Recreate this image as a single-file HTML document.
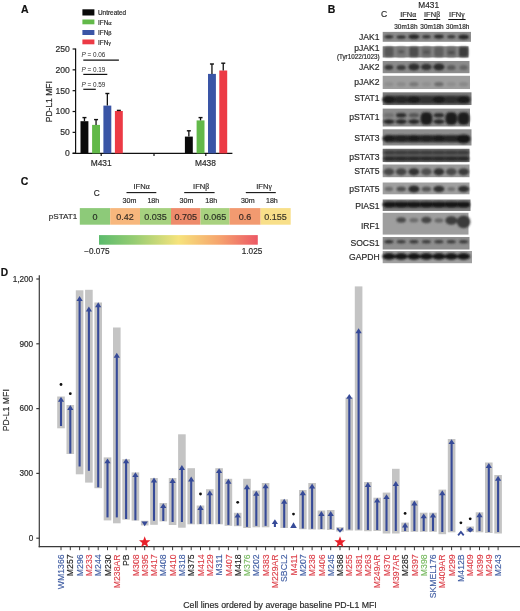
<!DOCTYPE html><html><head><meta charset="utf-8"><style>html,body{margin:0;padding:0;background:#fff;}svg{display:block;}text{font-family:'Liberation Sans', Arial, Helvetica, sans-serif;}</style></head><body>
<svg width="520" height="611" viewBox="0 0 520 611">
<defs><filter id="bl" x="-50%" y="-50%" width="200%" height="200%"><feGaussianBlur stdDeviation="1.1"/></filter><filter id="bl2" x="-50%" y="-50%" width="200%" height="200%"><feGaussianBlur stdDeviation="0.6"/></filter><linearGradient id="cbar" x1="0" x2="1" y1="0" y2="0"><stop offset="0" stop-color="#5bbb6c"/><stop offset="0.22" stop-color="#95cc72"/><stop offset="0.5" stop-color="#f6e37c"/><stop offset="0.75" stop-color="#f6a66e"/><stop offset="1" stop-color="#ec5865"/></linearGradient></defs>
<rect width="520" height="611" fill="#fff"/>
<text x="21" y="13" font-size="10.5" text-anchor="start" font-weight="bold" fill="#111" stroke="#111" stroke-width="0.18" >A</text>
<rect x="82.4" y="9.3" width="12" height="6.2" fill="#0a0a0a"/>
<text x="98" y="15.0" font-size="6.4" text-anchor="start" font-weight="normal" fill="#2a2a2a" stroke="#2a2a2a" stroke-width="0.18" >Untreated</text>
<rect x="82.4" y="19.5" width="12" height="4.8" fill="#62b949"/>
<text x="98" y="24.6" font-size="6.4" text-anchor="start" font-weight="normal" fill="#2a2a2a" stroke="#2a2a2a" stroke-width="0.18" >IFN<tspan font-family="Liberation Serif, serif">&#945;</tspan></text>
<rect x="82.4" y="30" width="12" height="5" fill="#3a55a6"/>
<text x="98" y="35.0" font-size="6.4" text-anchor="start" font-weight="normal" fill="#2a2a2a" stroke="#2a2a2a" stroke-width="0.18" >IFN<tspan font-family="Liberation Serif, serif">&#946;</tspan></text>
<rect x="82.4" y="39.5" width="12" height="4.8" fill="#ec3a45"/>
<text x="98" y="44.5" font-size="6.4" text-anchor="start" font-weight="normal" fill="#2a2a2a" stroke="#2a2a2a" stroke-width="0.18" >IFN<tspan font-family="Liberation Serif, serif">&#947;</tspan></text>
<g stroke="#111" stroke-width="1.2" fill="none">
<line x1="75.6" y1="48.6" x2="75.6" y2="153.6"/>
<line x1="72.6" y1="153.4" x2="232.4" y2="153.4"/>
<line x1="72.6" y1="153.20" x2="75.6" y2="153.20"/>
<line x1="72.6" y1="132.36" x2="75.6" y2="132.36"/>
<line x1="72.6" y1="111.52" x2="75.6" y2="111.52"/>
<line x1="72.6" y1="90.68" x2="75.6" y2="90.68"/>
<line x1="72.6" y1="69.84" x2="75.6" y2="69.84"/>
<line x1="72.6" y1="49.00" x2="75.6" y2="49.00"/>
<line x1="101.2" y1="153.4" x2="101.2" y2="156"/>
<line x1="154" y1="153.4" x2="154" y2="156"/>
<line x1="205.8" y1="153.4" x2="205.8" y2="156"/>
</g>
<text x="69.8" y="156.10" font-size="8.6" text-anchor="end" font-weight="normal" fill="#2a2a2a" stroke="#2a2a2a" stroke-width="0.18" >0</text>
<text x="69.8" y="135.26" font-size="8.6" text-anchor="end" font-weight="normal" fill="#2a2a2a" stroke="#2a2a2a" stroke-width="0.18" >50</text>
<text x="69.8" y="114.42" font-size="8.6" text-anchor="end" font-weight="normal" fill="#2a2a2a" stroke="#2a2a2a" stroke-width="0.18" >100</text>
<text x="69.8" y="93.58" font-size="8.6" text-anchor="end" font-weight="normal" fill="#2a2a2a" stroke="#2a2a2a" stroke-width="0.18" >150</text>
<text x="69.8" y="72.74" font-size="8.6" text-anchor="end" font-weight="normal" fill="#2a2a2a" stroke="#2a2a2a" stroke-width="0.18" >200</text>
<text x="69.8" y="51.90" font-size="8.6" text-anchor="end" font-weight="normal" fill="#2a2a2a" stroke="#2a2a2a" stroke-width="0.18" >250</text>
<text x="0" y="0" font-size="8.5" text-anchor="middle" font-weight="normal" fill="#2a2a2a" stroke="#2a2a2a" stroke-width="0.18" transform="translate(52.2,101.7) rotate(-90)">PD-L1 MFI</text>
<text x="101.2" y="165.6" font-size="8.4" text-anchor="middle" font-weight="normal" fill="#2a2a2a" stroke="#2a2a2a" stroke-width="0.18" >M431</text>
<text x="205.4" y="165.6" font-size="8.4" text-anchor="middle" font-weight="normal" fill="#2a2a2a" stroke="#2a2a2a" stroke-width="0.18" >M438</text>
<rect x="80.5" y="121.2" width="7.9" height="32.20" fill="#0a0a0a"/>
<line x1="84.45" y1="121.2" x2="84.45" y2="117.6" stroke="#111" stroke-width="1.3"/>
<line x1="82.45" y1="117.6" x2="86.45" y2="117.6" stroke="#111" stroke-width="1.4"/>
<rect x="92.1" y="124.9" width="7.9" height="28.50" fill="#62b949"/>
<line x1="96.05" y1="124.9" x2="96.05" y2="119.6" stroke="#111" stroke-width="1.3"/>
<line x1="94.05" y1="119.6" x2="98.05" y2="119.6" stroke="#111" stroke-width="1.4"/>
<rect x="103.4" y="105.6" width="7.9" height="47.80" fill="#3a55a6"/>
<line x1="107.35" y1="105.6" x2="107.35" y2="93.5" stroke="#111" stroke-width="1.3"/>
<line x1="105.35" y1="93.5" x2="109.35" y2="93.5" stroke="#111" stroke-width="1.4"/>
<rect x="114.9" y="111.0" width="7.9" height="42.40" fill="#ec3a45"/>
<line x1="118.85" y1="111.0" x2="118.85" y2="110.4" stroke="#111" stroke-width="1.3"/>
<line x1="116.85" y1="110.4" x2="120.85" y2="110.4" stroke="#111" stroke-width="1.4"/>
<rect x="184.9" y="136.6" width="7.9" height="16.80" fill="#0a0a0a"/>
<line x1="188.85" y1="136.6" x2="188.85" y2="130.8" stroke="#111" stroke-width="1.3"/>
<line x1="186.85" y1="130.8" x2="190.85" y2="130.8" stroke="#111" stroke-width="1.4"/>
<rect x="196.6" y="120.4" width="7.9" height="33.00" fill="#62b949"/>
<line x1="200.55" y1="120.4" x2="200.55" y2="117.6" stroke="#111" stroke-width="1.3"/>
<line x1="198.55" y1="117.6" x2="202.55" y2="117.6" stroke="#111" stroke-width="1.4"/>
<rect x="208.0" y="73.9" width="7.9" height="79.50" fill="#3a55a6"/>
<line x1="211.95" y1="73.9" x2="211.95" y2="64.0" stroke="#111" stroke-width="1.3"/>
<line x1="209.95" y1="64.0" x2="213.95" y2="64.0" stroke="#111" stroke-width="1.4"/>
<rect x="219.3" y="70.5" width="7.9" height="82.90" fill="#ec3a45"/>
<line x1="223.25" y1="70.5" x2="223.25" y2="63.2" stroke="#111" stroke-width="1.3"/>
<line x1="221.25" y1="63.2" x2="225.25" y2="63.2" stroke="#111" stroke-width="1.4"/>
<line x1="83.3" y1="60.2" x2="118.9" y2="60.2" stroke="#111" stroke-width="1.2"/>
<text x="81.4" y="57.1" font-size="6.4" fill="#2a2a2a"><tspan font-style="italic">P</tspan> = 0.06</text>
<line x1="83.3" y1="74.4" x2="107.3" y2="74.4" stroke="#111" stroke-width="1.2"/>
<text x="81.4" y="71.6" font-size="6.4" fill="#2a2a2a"><tspan font-style="italic">P</tspan> = 0.19</text>
<line x1="83.3" y1="89.3" x2="95.8" y2="89.3" stroke="#111" stroke-width="1.2"/>
<text x="81.4" y="86.5" font-size="6.4" fill="#2a2a2a"><tspan font-style="italic">P</tspan> = 0.59</text>
<text x="327.8" y="12.6" font-size="10.5" text-anchor="start" font-weight="bold" fill="#111" stroke="#111" stroke-width="0.18" >B</text>
<text x="428.7" y="7.7" font-size="8.3" text-anchor="middle" font-weight="normal" fill="#2a2a2a" stroke="#2a2a2a" stroke-width="0.18" >M431</text>
<text x="384.2" y="16.7" font-size="8.6" text-anchor="middle" font-weight="normal" fill="#2a2a2a" stroke="#2a2a2a" stroke-width="0.18" >C</text>
<text x="408.2" y="17.2" font-size="7.5" text-anchor="middle" font-weight="normal" fill="#2a2a2a" stroke="#2a2a2a" stroke-width="0.18" >IFN<tspan font-family="Liberation Serif, serif">&#945;</tspan></text>
<line x1="399.6" y1="19.5" x2="416.6" y2="19.5" stroke="#111" stroke-width="1"/>
<text x="432.0" y="17.2" font-size="7.5" text-anchor="middle" font-weight="normal" fill="#2a2a2a" stroke="#2a2a2a" stroke-width="0.18" >IFN<tspan font-family="Liberation Serif, serif">&#946;</tspan></text>
<line x1="423.8" y1="19.5" x2="440.2" y2="19.5" stroke="#111" stroke-width="1"/>
<text x="456.8" y="17.2" font-size="7.5" text-anchor="middle" font-weight="normal" fill="#2a2a2a" stroke="#2a2a2a" stroke-width="0.18" >IFN<tspan font-family="Liberation Serif, serif">&#947;</tspan></text>
<line x1="448.3" y1="19.5" x2="465.6" y2="19.5" stroke="#111" stroke-width="1"/>
<text x="405.9" y="28.8" font-size="6.45" text-anchor="middle" font-weight="normal" fill="#2a2a2a" stroke="#2a2a2a" stroke-width="0.18" >30m18h</text>
<text x="432.0" y="28.8" font-size="6.45" text-anchor="middle" font-weight="normal" fill="#2a2a2a" stroke="#2a2a2a" stroke-width="0.18" >30m18h</text>
<text x="457.7" y="28.8" font-size="6.45" text-anchor="middle" font-weight="normal" fill="#2a2a2a" stroke="#2a2a2a" stroke-width="0.18" >30m18h</text>
<text x="379.6" y="39.6" font-size="8.6" text-anchor="end" font-weight="normal" fill="#2a2a2a" stroke="#2a2a2a" stroke-width="0.18" >JAK1</text>
<rect x="382.7" y="31.9" width="88.3" height="9.9" fill="#8e8e8e"/>
<g filter="url(#bl)"><ellipse cx="388.90" cy="36.8" rx="4.6" ry="1.8" fill="#2e2e2e"/><ellipse cx="401.20" cy="37.0" rx="4.8" ry="1.8" fill="#2e2e2e"/><ellipse cx="413.90" cy="36.8" rx="5.6" ry="2.5" fill="#262626"/><ellipse cx="426.40" cy="36.8" rx="4.4" ry="1.7" fill="#303030"/><ellipse cx="438.90" cy="36.6" rx="5.0" ry="2.1" fill="#2a2a2a"/><ellipse cx="451.30" cy="36.8" rx="4.2" ry="1.7" fill="#333"/><ellipse cx="463.60" cy="37.0" rx="5.4" ry="2.5" fill="#262626"/></g>
<text x="379.6" y="51.2" font-size="8.6" text-anchor="end" font-weight="normal" fill="#2a2a2a" stroke="#2a2a2a" stroke-width="0.18" >pJAK1</text>
<rect x="382.7" y="46.3" width="85.8" height="11.2" fill="#858585"/>
<g filter="url(#bl)"><rect x="384.30" y="46.8" width="9.2" height="10.2" rx="2" fill="#585858"/><rect x="396.60" y="46.8" width="9.2" height="10.2" rx="2" fill="#767676"/><rect x="409.30" y="46.8" width="9.2" height="10.2" rx="2" fill="#4e4e4e"/><rect x="421.80" y="46.8" width="9.2" height="10.2" rx="2" fill="#6a6a6a"/><rect x="434.30" y="46.8" width="9.2" height="10.2" rx="2" fill="#5e5e5e"/><rect x="446.70" y="46.8" width="9.2" height="10.2" rx="2" fill="#6a6a6a"/><rect x="459.00" y="46.8" width="9.2" height="10.2" rx="2" fill="#3e3e3e"/><ellipse cx="401.20" cy="51.8" rx="3.0" ry="1.3" fill="#4a4a4a"/><ellipse cx="451.30" cy="52.5" rx="3.5" ry="1.5" fill="#4a4a4a"/><ellipse cx="426.40" cy="52.0" rx="3.5" ry="1.5" fill="#505050"/></g>
<text x="379.6" y="69.6" font-size="8.6" text-anchor="end" font-weight="normal" fill="#2a2a2a" stroke="#2a2a2a" stroke-width="0.18" >JAK2</text>
<rect x="382.7" y="61.0" width="86.8" height="12.2" fill="#8c8c8c"/>
<g filter="url(#bl)"><ellipse cx="388.90" cy="67.3" rx="4.4" ry="2.6" fill="#383838"/><ellipse cx="401.20" cy="67.5" rx="4.6" ry="2.6" fill="#3a3a3a"/><ellipse cx="413.90" cy="67.0" rx="5.6" ry="3.4" fill="#2e2e2e"/><ellipse cx="426.40" cy="67.0" rx="5.4" ry="3.2" fill="#303030"/><ellipse cx="438.90" cy="67.0" rx="5.6" ry="3.5" fill="#2a2a2a"/><ellipse cx="451.30" cy="67.5" rx="4.4" ry="2.6" fill="#5a5a5a"/><ellipse cx="463.60" cy="67.5" rx="4.2" ry="2.6" fill="#666"/></g>
<text x="379.6" y="85.0" font-size="8.6" text-anchor="end" font-weight="normal" fill="#2a2a2a" stroke="#2a2a2a" stroke-width="0.18" >pJAK2</text>
<rect x="382.7" y="75.8" width="87.3" height="13.2" fill="#9e9e9e"/>
<g filter="url(#bl)"><ellipse cx="388.90" cy="84.2" rx="4.6" ry="2.2" fill="#8e8e8e"/><ellipse cx="401.20" cy="84.2" rx="4.6" ry="2.2" fill="#8a8a8a"/><ellipse cx="413.90" cy="84.2" rx="4.6" ry="2.2" fill="#787878"/><ellipse cx="426.40" cy="84.2" rx="4.6" ry="2.2" fill="#909090"/><ellipse cx="438.90" cy="84.2" rx="4.6" ry="2.2" fill="#6c6c6c"/><ellipse cx="451.30" cy="84.2" rx="4.6" ry="2.2" fill="#8e8e8e"/><ellipse cx="463.60" cy="84.2" rx="4.6" ry="2.2" fill="#888"/></g>
<text x="379.6" y="100.8" font-size="8.6" text-anchor="end" font-weight="normal" fill="#2a2a2a" stroke="#2a2a2a" stroke-width="0.18" >STAT1</text>
<rect x="382.7" y="92.3" width="88.8" height="12.7" fill="#7c7c7c"/>
<g filter="url(#bl)"><rect x="384.00" y="95.5" width="86" height="8.5" rx="3" fill="#3a3a3a"/><ellipse cx="388.90" cy="99.6" rx="6.6" ry="3.6" fill="#1c1c1c"/><ellipse cx="401.20" cy="99.6" rx="6.6" ry="3.6" fill="#262626"/><ellipse cx="413.90" cy="99.6" rx="6.6" ry="3.6" fill="#1c1c1c"/><ellipse cx="426.40" cy="99.6" rx="6.6" ry="3.6" fill="#333"/><ellipse cx="438.90" cy="99.6" rx="6.6" ry="3.6" fill="#1e1e1e"/><ellipse cx="451.30" cy="99.6" rx="6.6" ry="3.6" fill="#2e2e2e"/><ellipse cx="463.60" cy="99.6" rx="6.6" ry="3.6" fill="#1a1a1a"/></g>
<text x="379.6" y="120.4" font-size="8.6" text-anchor="end" font-weight="normal" fill="#2a2a2a" stroke="#2a2a2a" stroke-width="0.18" >pSTAT1</text>
<rect x="382.7" y="108.6" width="87.3" height="17.9" fill="#8c8c8c"/>
<g filter="url(#bl)"><ellipse cx="388.90" cy="115.3" rx="5.2" ry="2.2" fill="#707070"/><ellipse cx="388.90" cy="121.6" rx="5.6" ry="2.3" fill="#262626"/><ellipse cx="401.20" cy="115.3" rx="5.2" ry="2.2" fill="#2a2a2a"/><ellipse cx="401.20" cy="121.6" rx="5.6" ry="2.3" fill="#262626"/><ellipse cx="413.90" cy="115.3" rx="5.2" ry="2.2" fill="#555"/><ellipse cx="413.90" cy="121.6" rx="5.6" ry="2.3" fill="#262626"/><rect x="420.60" y="112.2" width="11.6" height="12.6" rx="4.5" fill="#1c1c1c"/><ellipse cx="438.90" cy="115.3" rx="5.2" ry="2.2" fill="#2a2a2a"/><ellipse cx="438.90" cy="121.6" rx="5.6" ry="2.3" fill="#262626"/><rect x="445.50" y="112.2" width="11.6" height="12.6" rx="4.5" fill="#1c1c1c"/><rect x="457.80" y="112.2" width="11.6" height="12.6" rx="4.5" fill="#1c1c1c"/></g>
<text x="379.6" y="141.2" font-size="8.6" text-anchor="end" font-weight="normal" fill="#2a2a2a" stroke="#2a2a2a" stroke-width="0.18" >STAT3</text>
<rect x="382.7" y="129.3" width="88.8" height="16.2" fill="#8e8e8e"/>
<g filter="url(#bl)"><rect x="384.00" y="135.0" width="86" height="7.5" rx="3" fill="#333"/><ellipse cx="388.90" cy="138.4" rx="6.4" ry="3.2" fill="#1c1c1c"/><ellipse cx="401.20" cy="138.4" rx="6.4" ry="3.2" fill="#222"/><ellipse cx="413.90" cy="138.4" rx="6.4" ry="3.2" fill="#1c1c1c"/><ellipse cx="426.40" cy="138.4" rx="6.4" ry="3.2" fill="#222"/><ellipse cx="438.90" cy="138.4" rx="6.4" ry="3.2" fill="#1c1c1c"/><ellipse cx="451.30" cy="138.4" rx="6.4" ry="3.2" fill="#262626"/><ellipse cx="463.60" cy="138.4" rx="6.4" ry="3.2" fill="#141414"/><ellipse cx="463.60" cy="139" rx="6.8" ry="4.6" fill="#141414"/></g>
<text x="379.6" y="159.6" font-size="8.6" text-anchor="end" font-weight="normal" fill="#2a2a2a" stroke="#2a2a2a" stroke-width="0.18" >pSTAT3</text>
<rect x="382.7" y="148.8" width="86.8" height="13.2" fill="#707070"/>
<g filter="url(#bl)"><rect x="384.00" y="150.5" width="85" height="4.2" rx="2" fill="#454545"/><rect x="384.00" y="156.2" width="85" height="4.8" rx="2" fill="#333"/><ellipse cx="388.90" cy="152.5" rx="5.6" ry="1.8" fill="#3a3a3a"/><ellipse cx="401.20" cy="152.5" rx="5.6" ry="1.8" fill="#3a3a3a"/><ellipse cx="413.90" cy="152.5" rx="5.6" ry="1.8" fill="#3a3a3a"/><ellipse cx="426.40" cy="152.5" rx="5.6" ry="1.8" fill="#3a3a3a"/><ellipse cx="438.90" cy="152.5" rx="5.6" ry="1.8" fill="#3a3a3a"/><ellipse cx="451.30" cy="152.5" rx="5.6" ry="1.8" fill="#3a3a3a"/><ellipse cx="463.60" cy="152.5" rx="5.6" ry="1.8" fill="#3a3a3a"/><ellipse cx="388.90" cy="158.6" rx="5.8" ry="2.2" fill="#2a2a2a"/><ellipse cx="401.20" cy="158.6" rx="5.8" ry="2.2" fill="#2a2a2a"/><ellipse cx="413.90" cy="158.6" rx="5.8" ry="2.2" fill="#2a2a2a"/><ellipse cx="426.40" cy="158.6" rx="5.8" ry="2.2" fill="#2a2a2a"/><ellipse cx="438.90" cy="158.6" rx="5.8" ry="2.2" fill="#2a2a2a"/><ellipse cx="451.30" cy="158.6" rx="5.8" ry="2.2" fill="#2a2a2a"/><ellipse cx="463.60" cy="158.6" rx="5.8" ry="2.2" fill="#2a2a2a"/></g>
<text x="379.6" y="174.2" font-size="8.6" text-anchor="end" font-weight="normal" fill="#2a2a2a" stroke="#2a2a2a" stroke-width="0.18" >STAT5</text>
<rect x="382.7" y="164.5" width="86.8" height="12.7" fill="#999"/>
<g filter="url(#bl)"><ellipse cx="388.90" cy="171.8" rx="5.4" ry="3.6" fill="#4a4a4a"/><ellipse cx="401.20" cy="171.8" rx="5.4" ry="3.6" fill="#454545"/><ellipse cx="413.90" cy="171.8" rx="5.4" ry="3.6" fill="#303030"/><ellipse cx="426.40" cy="171.8" rx="5.4" ry="3.6" fill="#505050"/><ellipse cx="438.90" cy="171.8" rx="5.4" ry="3.6" fill="#333"/><ellipse cx="451.30" cy="171.8" rx="5.4" ry="3.6" fill="#484848"/><ellipse cx="463.60" cy="171.8" rx="5.4" ry="3.6" fill="#3a3a3a"/></g>
<text x="379.6" y="191.9" font-size="8.6" text-anchor="end" font-weight="normal" fill="#2a2a2a" stroke="#2a2a2a" stroke-width="0.18" >pSTAT5</text>
<rect x="382.7" y="182.5" width="86.8" height="11.8" fill="#a0a0a0"/>
<g filter="url(#bl)"><ellipse cx="388.90" cy="189.0" rx="4.2" ry="2.2" fill="#6a6a6a"/><ellipse cx="401.20" cy="189.0" rx="4.8" ry="2.5" fill="#505050"/><ellipse cx="413.90" cy="189.0" rx="5.6" ry="3.6" fill="#2a2a2a"/><ellipse cx="426.40" cy="189.0" rx="4.8" ry="2.6" fill="#555"/><ellipse cx="438.90" cy="189.0" rx="5.6" ry="3.2" fill="#333"/><ellipse cx="451.30" cy="189.0" rx="4.0" ry="2.0" fill="#707070"/><ellipse cx="463.60" cy="189.0" rx="5.6" ry="3.2" fill="#333"/></g>
<text x="379.6" y="208.8" font-size="8.6" text-anchor="end" font-weight="normal" fill="#2a2a2a" stroke="#2a2a2a" stroke-width="0.18" >PIAS1</text>
<rect x="382.7" y="199.5" width="87.8" height="11.5" fill="#7e7e7e"/>
<g filter="url(#bl)"><rect x="384.00" y="201.8" width="86" height="5.8" rx="2" fill="#2a2a2a"/><ellipse cx="388.90" cy="204.6" rx="6.4" ry="2.9" fill="#141414"/><ellipse cx="401.20" cy="204.6" rx="6.4" ry="2.9" fill="#141414"/><ellipse cx="413.90" cy="204.6" rx="6.4" ry="2.9" fill="#141414"/><ellipse cx="426.40" cy="204.6" rx="6.4" ry="2.9" fill="#141414"/><ellipse cx="438.90" cy="204.6" rx="6.4" ry="2.9" fill="#141414"/><ellipse cx="451.30" cy="204.6" rx="6.4" ry="2.9" fill="#141414"/><ellipse cx="463.60" cy="204.6" rx="6.4" ry="2.9" fill="#141414"/></g>
<text x="379.6" y="228.5" font-size="8.6" text-anchor="end" font-weight="normal" fill="#2a2a2a" stroke="#2a2a2a" stroke-width="0.18" >IRF1</text>
<rect x="382.7" y="212.8" width="85.8" height="21.8" fill="#9e9e9e"/>
<g filter="url(#bl)"><ellipse cx="401.20" cy="220.0" rx="4.8" ry="2.8" fill="#4a4a4a"/><ellipse cx="413.90" cy="220.2" rx="4.4" ry="2.2" fill="#6a6a6a"/><ellipse cx="426.40" cy="220.0" rx="5.2" ry="3.2" fill="#444"/><ellipse cx="438.90" cy="220.5" rx="4.4" ry="2.2" fill="#666"/><ellipse cx="451.30" cy="220.5" rx="6.0" ry="4.2" fill="#3c3c3c"/><ellipse cx="463.60" cy="221.8" rx="6.8" ry="6.4" fill="#3a3a3a"/></g>
<text x="379.6" y="246.2" font-size="8.6" text-anchor="end" font-weight="normal" fill="#2a2a2a" stroke="#2a2a2a" stroke-width="0.18" >SOCS1</text>
<rect x="382.7" y="237.0" width="86.8" height="12.5" fill="#8e8e8e"/>
<g filter="url(#bl)"><ellipse cx="388.90" cy="241.8" rx="4.6" ry="1.7" fill="#2e2e2e"/><ellipse cx="401.20" cy="241.8" rx="4.6" ry="1.7" fill="#3a3a3a"/><ellipse cx="413.90" cy="241.8" rx="4.6" ry="1.7" fill="#363636"/><ellipse cx="426.40" cy="241.8" rx="4.6" ry="1.7" fill="#3a3a3a"/><ellipse cx="438.90" cy="241.8" rx="4.6" ry="1.7" fill="#3a3a3a"/><ellipse cx="451.30" cy="241.8" rx="4.6" ry="1.7" fill="#3a3a3a"/><ellipse cx="463.60" cy="241.8" rx="4.6" ry="1.7" fill="#383838"/></g>
<text x="379.6" y="259.7" font-size="8.6" text-anchor="end" font-weight="normal" fill="#2a2a2a" stroke="#2a2a2a" stroke-width="0.18" >GAPDH</text>
<rect x="382.7" y="251.0" width="89.3" height="12.2" fill="#a0a0a0"/>
<g filter="url(#bl)"><ellipse cx="388.90" cy="256.4" rx="6.6" ry="3.3" fill="#151515"/><ellipse cx="401.20" cy="256.4" rx="6.6" ry="3.3" fill="#151515"/><ellipse cx="413.90" cy="256.4" rx="6.6" ry="3.3" fill="#151515"/><ellipse cx="426.40" cy="256.4" rx="6.6" ry="3.3" fill="#151515"/><ellipse cx="438.90" cy="256.4" rx="6.6" ry="3.3" fill="#151515"/><ellipse cx="451.30" cy="256.4" rx="6.6" ry="3.3" fill="#151515"/><ellipse cx="463.60" cy="256.4" rx="6.6" ry="3.3" fill="#151515"/></g>
<text x="379.6" y="59.0" font-size="6.3" text-anchor="end" font-weight="normal" fill="#2a2a2a" stroke="#2a2a2a" stroke-width="0.18" >(Tyr1022/1023)</text>
<text x="20.8" y="185" font-size="10.5" text-anchor="start" font-weight="bold" fill="#111" stroke="#111" stroke-width="0.18" >C</text>
<text x="96.8" y="195.5" font-size="8.3" text-anchor="middle" font-weight="normal" fill="#2a2a2a" stroke="#2a2a2a" stroke-width="0.18" >C</text>
<text x="141.6" y="189.2" font-size="7.6" text-anchor="middle" font-weight="normal" fill="#2a2a2a" stroke="#2a2a2a" stroke-width="0.18" >IFN<tspan font-family="Liberation Serif, serif">&#945;</tspan></text>
<line x1="126.5" y1="192.6" x2="156.3" y2="192.6" stroke="#111" stroke-width="1.1"/>
<text x="201.1" y="189.2" font-size="7.6" text-anchor="middle" font-weight="normal" fill="#2a2a2a" stroke="#2a2a2a" stroke-width="0.18" >IFN<tspan font-family="Liberation Serif, serif">&#946;</tspan></text>
<line x1="184.2" y1="192.6" x2="214.6" y2="192.6" stroke="#111" stroke-width="1.1"/>
<text x="264" y="189.2" font-size="7.6" text-anchor="middle" font-weight="normal" fill="#2a2a2a" stroke="#2a2a2a" stroke-width="0.18" >IFN<tspan font-family="Liberation Serif, serif">&#947;</tspan></text>
<line x1="245.8" y1="192.6" x2="275.8" y2="192.6" stroke="#111" stroke-width="1.1"/>
<text x="129.5" y="202.9" font-size="7.1" text-anchor="middle" font-weight="normal" fill="#2a2a2a" stroke="#2a2a2a" stroke-width="0.18" >30m</text>
<text x="153.3" y="202.9" font-size="7.1" text-anchor="middle" font-weight="normal" fill="#2a2a2a" stroke="#2a2a2a" stroke-width="0.18" >18h</text>
<text x="186.5" y="202.9" font-size="7.1" text-anchor="middle" font-weight="normal" fill="#2a2a2a" stroke="#2a2a2a" stroke-width="0.18" >30m</text>
<text x="211.2" y="202.9" font-size="7.1" text-anchor="middle" font-weight="normal" fill="#2a2a2a" stroke="#2a2a2a" stroke-width="0.18" >18h</text>
<text x="247.8" y="202.9" font-size="7.1" text-anchor="middle" font-weight="normal" fill="#2a2a2a" stroke="#2a2a2a" stroke-width="0.18" >30m</text>
<text x="271.9" y="202.9" font-size="7.1" text-anchor="middle" font-weight="normal" fill="#2a2a2a" stroke="#2a2a2a" stroke-width="0.18" >18h</text>
<rect x="79.8" y="208.1" width="30.4" height="16.6" fill="#8dca79"/>
<text x="95.0" y="220.0" font-size="9.0" text-anchor="middle" font-weight="normal" fill="rgba(20,20,20,0.82)" stroke="rgba(20,20,20,0.82)" stroke-width="0.18" >0</text>
<rect x="110.2" y="208.1" width="29.8" height="16.6" fill="#f7b77d"/>
<text x="125.1" y="220.0" font-size="9.0" text-anchor="middle" font-weight="normal" fill="rgba(20,20,20,0.82)" stroke="rgba(20,20,20,0.82)" stroke-width="0.18" >0.42</text>
<rect x="140.0" y="208.1" width="31.0" height="16.6" fill="#a6d17f"/>
<text x="155.5" y="220.0" font-size="9.0" text-anchor="middle" font-weight="normal" fill="rgba(20,20,20,0.82)" stroke="rgba(20,20,20,0.82)" stroke-width="0.18" >0.035</text>
<rect x="171.0" y="208.1" width="29.5" height="16.6" fill="#ee8b6b"/>
<text x="185.8" y="220.0" font-size="9.0" text-anchor="middle" font-weight="normal" fill="rgba(20,20,20,0.82)" stroke="rgba(20,20,20,0.82)" stroke-width="0.18" >0.705</text>
<rect x="200.5" y="208.1" width="29.1" height="16.6" fill="#a8d17f"/>
<text x="215.1" y="220.0" font-size="9.0" text-anchor="middle" font-weight="normal" fill="rgba(20,20,20,0.82)" stroke="rgba(20,20,20,0.82)" stroke-width="0.18" >0.065</text>
<rect x="229.6" y="208.1" width="31.0" height="16.6" fill="#f29a70"/>
<text x="245.1" y="220.0" font-size="9.0" text-anchor="middle" font-weight="normal" fill="rgba(20,20,20,0.82)" stroke="rgba(20,20,20,0.82)" stroke-width="0.18" >0.6</text>
<rect x="260.6" y="208.1" width="30.1" height="16.6" fill="#f8df89"/>
<text x="275.6" y="220.0" font-size="9.0" text-anchor="middle" font-weight="normal" fill="rgba(20,20,20,0.82)" stroke="rgba(20,20,20,0.82)" stroke-width="0.18" >0.155</text>
<text x="77.3" y="219.1" font-size="8.1" text-anchor="end" font-weight="normal" fill="#2a2a2a" stroke="#2a2a2a" stroke-width="0.18" >pSTAT1</text>
<rect x="99" y="235.1" width="158.8" height="9.6" fill="url(#cbar)"/>
<text x="96.9" y="254" font-size="8.2" text-anchor="middle" font-weight="normal" fill="#2a2a2a" stroke="#2a2a2a" stroke-width="0.18" >&#8722;0.075</text>
<text x="252" y="254" font-size="8.2" text-anchor="middle" font-weight="normal" fill="#2a2a2a" stroke="#2a2a2a" stroke-width="0.18" >1.025</text>
<text x="0.7" y="275.5" font-size="10.2" text-anchor="start" font-weight="bold" fill="#111" stroke="#111" stroke-width="0.18" >D</text>
<g stroke="#3a3a3a" stroke-width="1.2" fill="none">
<line x1="39.3" y1="275.3" x2="39.3" y2="547.2"/>
<line x1="38.7" y1="546.7" x2="520" y2="546.7"/>
<line x1="36.3" y1="538.20" x2="39.3" y2="538.20"/>
<line x1="36.3" y1="473.40" x2="39.3" y2="473.40"/>
<line x1="36.3" y1="408.60" x2="39.3" y2="408.60"/>
<line x1="36.3" y1="343.80" x2="39.3" y2="343.80"/>
<line x1="36.3" y1="279.00" x2="39.3" y2="279.00"/>
</g>
<text x="33.2" y="541.00" font-size="8.2" text-anchor="end" font-weight="normal" fill="#2a2a2a" stroke="#2a2a2a" stroke-width="0.18" >0</text>
<text x="33.2" y="476.20" font-size="8.2" text-anchor="end" font-weight="normal" fill="#2a2a2a" stroke="#2a2a2a" stroke-width="0.18" >300</text>
<text x="33.2" y="411.40" font-size="8.2" text-anchor="end" font-weight="normal" fill="#2a2a2a" stroke="#2a2a2a" stroke-width="0.18" >600</text>
<text x="33.2" y="346.60" font-size="8.2" text-anchor="end" font-weight="normal" fill="#2a2a2a" stroke="#2a2a2a" stroke-width="0.18" >900</text>
<text x="33.2" y="281.80" font-size="8.2" text-anchor="end" font-weight="normal" fill="#2a2a2a" stroke="#2a2a2a" stroke-width="0.18" >1,200</text>
<text x="0" y="0" font-size="8.7" text-anchor="middle" font-weight="normal" fill="#2a2a2a" stroke="#2a2a2a" stroke-width="0.18" transform="translate(8.9,410.2) rotate(-90)">PD-L1 MFI</text>
<text x="280" y="608.4" font-size="8.75" text-anchor="middle" font-weight="normal" fill="#2a2a2a" stroke="#2a2a2a" stroke-width="0.18" >Cell lines ordered by average baseline PD-L1 MFI</text>
<rect x="57.20" y="396.5" width="7.6" height="31.8" fill="#c4c4c4"/>
<line x1="61.00" y1="426.0" x2="61.00" y2="401.2" stroke="#364a98" stroke-width="2.1"/>
<polygon points="57.90,401.7 61.00,396.8 64.10,401.7" fill="#364a98"/>
<circle cx="61.00" cy="384.5" r="1.4" fill="#111"/>
<line x1="61.00" y1="546.7" x2="61.00" y2="550.2" stroke="#3a3a3a" stroke-width="1"/>
<text x="0" y="0" font-size="8.7" text-anchor="end" fill="#3f5ca2" stroke="#3f5ca2" stroke-width="0.15" transform="translate(64.10,554.4) rotate(-90)">WM1366</text>
<rect x="66.50" y="405.0" width="7.6" height="49.0" fill="#c4c4c4"/>
<line x1="70.30" y1="453.5" x2="70.30" y2="409.4" stroke="#364a98" stroke-width="2.1"/>
<polygon points="67.20,409.9 70.30,405.0 73.40,409.9" fill="#364a98"/>
<circle cx="70.30" cy="393.7" r="1.4" fill="#111"/>
<line x1="70.30" y1="546.7" x2="70.30" y2="550.2" stroke="#3a3a3a" stroke-width="1"/>
<text x="0" y="0" font-size="8.7" text-anchor="end" fill="#222" stroke="#222" stroke-width="0.15" transform="translate(73.40,554.4) rotate(-90)">M257</text>
<rect x="75.80" y="290.3" width="7.6" height="184.0" fill="#c4c4c4"/>
<line x1="79.60" y1="466.5" x2="79.60" y2="300.4" stroke="#364a98" stroke-width="2.1"/>
<polygon points="76.50,300.9 79.60,296.0 82.70,300.9" fill="#364a98"/>
<line x1="79.60" y1="546.7" x2="79.60" y2="550.2" stroke="#3a3a3a" stroke-width="1"/>
<text x="0" y="0" font-size="8.7" text-anchor="end" fill="#3f5ca2" stroke="#3f5ca2" stroke-width="0.15" transform="translate(82.70,554.4) rotate(-90)">M296</text>
<rect x="85.10" y="289.8" width="7.6" height="192.8" fill="#c4c4c4"/>
<line x1="88.90" y1="470.8" x2="88.90" y2="310.9" stroke="#364a98" stroke-width="2.1"/>
<polygon points="85.80,311.4 88.90,306.5 92.00,311.4" fill="#364a98"/>
<line x1="88.90" y1="546.7" x2="88.90" y2="550.2" stroke="#3a3a3a" stroke-width="1"/>
<text x="0" y="0" font-size="8.7" text-anchor="end" fill="#dc3e48" stroke="#dc3e48" stroke-width="0.15" transform="translate(92.00,554.4) rotate(-90)">M233</text>
<rect x="94.40" y="302.5" width="7.6" height="185.7" fill="#c4c4c4"/>
<line x1="98.20" y1="487.3" x2="98.20" y2="306.7" stroke="#364a98" stroke-width="2.1"/>
<polygon points="95.10,307.2 98.20,302.3 101.30,307.2" fill="#364a98"/>
<line x1="98.20" y1="546.7" x2="98.20" y2="550.2" stroke="#3a3a3a" stroke-width="1"/>
<text x="0" y="0" font-size="8.7" text-anchor="end" fill="#3f5ca2" stroke="#3f5ca2" stroke-width="0.15" transform="translate(101.30,554.4) rotate(-90)">M244</text>
<rect x="103.70" y="457.4" width="7.6" height="63.0" fill="#c4c4c4"/>
<line x1="107.50" y1="517.4" x2="107.50" y2="462.79999999999995" stroke="#364a98" stroke-width="2.1"/>
<polygon points="104.40,463.29999999999995 107.50,458.4 110.60,463.29999999999995" fill="#364a98"/>
<line x1="107.50" y1="546.7" x2="107.50" y2="550.2" stroke="#3a3a3a" stroke-width="1"/>
<text x="0" y="0" font-size="8.7" text-anchor="end" fill="#222" stroke="#222" stroke-width="0.15" transform="translate(110.60,554.4) rotate(-90)">M230</text>
<rect x="113.00" y="327.5" width="7.6" height="195.8" fill="#c4c4c4"/>
<line x1="116.80" y1="517.4" x2="116.80" y2="357.2" stroke="#364a98" stroke-width="2.1"/>
<polygon points="113.70,357.7 116.80,352.8 119.90,357.7" fill="#364a98"/>
<line x1="116.80" y1="546.7" x2="116.80" y2="550.2" stroke="#3a3a3a" stroke-width="1"/>
<text x="0" y="0" font-size="8.7" text-anchor="end" fill="#dc3e48" stroke="#dc3e48" stroke-width="0.15" transform="translate(119.90,554.4) rotate(-90)">M238AR</text>
<rect x="122.30" y="459.2" width="7.6" height="60.4" fill="#c4c4c4"/>
<line x1="126.10" y1="519.0" x2="126.10" y2="462.79999999999995" stroke="#364a98" stroke-width="2.1"/>
<polygon points="123.00,463.29999999999995 126.10,458.4 129.20,463.29999999999995" fill="#364a98"/>
<line x1="126.10" y1="546.7" x2="126.10" y2="550.2" stroke="#3a3a3a" stroke-width="1"/>
<text x="0" y="0" font-size="8.7" text-anchor="end" fill="#222" stroke="#222" stroke-width="0.15" transform="translate(129.20,554.4) rotate(-90)">PB</text>
<rect x="131.60" y="472.4" width="7.6" height="48.2" fill="#c4c4c4"/>
<line x1="135.40" y1="520.2" x2="135.40" y2="476.59999999999997" stroke="#364a98" stroke-width="2.1"/>
<polygon points="132.30,477.09999999999997 135.40,472.2 138.50,477.09999999999997" fill="#364a98"/>
<line x1="135.40" y1="546.7" x2="135.40" y2="550.2" stroke="#3a3a3a" stroke-width="1"/>
<text x="0" y="0" font-size="8.7" text-anchor="end" fill="#dc3e48" stroke="#dc3e48" stroke-width="0.15" transform="translate(138.50,554.4) rotate(-90)">M308</text>
<rect x="140.90" y="520.8" width="7.6" height="4.6" fill="#c4c4c4"/>
<polygon points="141.60,521.6 147.80,521.6 144.70,526.3" fill="#364a98"/>
<line x1="144.70" y1="546.7" x2="144.70" y2="550.2" stroke="#3a3a3a" stroke-width="1"/>
<text x="0" y="0" font-size="8.7" text-anchor="end" fill="#dc3e48" stroke="#dc3e48" stroke-width="0.15" transform="translate(147.80,554.4) rotate(-90)">M395</text>
<rect x="150.20" y="478.0" width="7.6" height="46.8" fill="#c4c4c4"/>
<line x1="154.00" y1="520.8" x2="154.00" y2="482.0" stroke="#364a98" stroke-width="2.1"/>
<polygon points="150.90,482.5 154.00,477.6 157.10,482.5" fill="#364a98"/>
<line x1="154.00" y1="546.7" x2="154.00" y2="550.2" stroke="#3a3a3a" stroke-width="1"/>
<text x="0" y="0" font-size="8.7" text-anchor="end" fill="#dc3e48" stroke="#dc3e48" stroke-width="0.15" transform="translate(157.10,554.4) rotate(-90)">M417</text>
<rect x="159.50" y="503.0" width="7.6" height="18.4" fill="#c4c4c4"/>
<line x1="163.30" y1="521.0" x2="163.30" y2="507.59999999999997" stroke="#364a98" stroke-width="2.1"/>
<polygon points="160.20,508.09999999999997 163.30,503.2 166.40,508.09999999999997" fill="#364a98"/>
<line x1="163.30" y1="546.7" x2="163.30" y2="550.2" stroke="#3a3a3a" stroke-width="1"/>
<text x="0" y="0" font-size="8.7" text-anchor="end" fill="#3f5ca2" stroke="#3f5ca2" stroke-width="0.15" transform="translate(166.40,554.4) rotate(-90)">M408</text>
<rect x="168.80" y="478.0" width="7.6" height="47.0" fill="#c4c4c4"/>
<line x1="172.60" y1="522.0" x2="172.60" y2="482.4" stroke="#364a98" stroke-width="2.1"/>
<polygon points="169.50,482.9 172.60,478.0 175.70,482.9" fill="#364a98"/>
<line x1="172.60" y1="546.7" x2="172.60" y2="550.2" stroke="#3a3a3a" stroke-width="1"/>
<text x="0" y="0" font-size="8.7" text-anchor="end" fill="#dc3e48" stroke="#dc3e48" stroke-width="0.15" transform="translate(175.70,554.4) rotate(-90)">M410</text>
<rect x="178.10" y="434.3" width="7.6" height="93.4" fill="#c4c4c4"/>
<line x1="181.90" y1="522.0" x2="181.90" y2="469.4" stroke="#364a98" stroke-width="2.1"/>
<polygon points="178.80,469.9 181.90,465.0 185.00,469.9" fill="#364a98"/>
<line x1="181.90" y1="546.7" x2="181.90" y2="550.2" stroke="#3a3a3a" stroke-width="1"/>
<text x="0" y="0" font-size="8.7" text-anchor="end" fill="#3f5ca2" stroke="#3f5ca2" stroke-width="0.15" transform="translate(185.00,554.4) rotate(-90)">M318</text>
<rect x="187.40" y="468.2" width="7.6" height="56.1" fill="#c4c4c4"/>
<line x1="191.20" y1="523.5" x2="191.20" y2="480.9" stroke="#364a98" stroke-width="2.1"/>
<polygon points="188.10,481.4 191.20,476.5 194.30,481.4" fill="#364a98"/>
<line x1="191.20" y1="546.7" x2="191.20" y2="550.2" stroke="#3a3a3a" stroke-width="1"/>
<text x="0" y="0" font-size="8.7" text-anchor="end" fill="#222" stroke="#222" stroke-width="0.15" transform="translate(194.30,554.4) rotate(-90)">M375</text>
<rect x="196.70" y="505.5" width="7.6" height="18.8" fill="#c4c4c4"/>
<line x1="200.50" y1="523.9" x2="200.50" y2="509.4" stroke="#364a98" stroke-width="2.1"/>
<polygon points="197.40,509.9 200.50,505.0 203.60,509.9" fill="#364a98"/>
<circle cx="200.50" cy="494.0" r="1.4" fill="#111"/>
<line x1="200.50" y1="546.7" x2="200.50" y2="550.2" stroke="#3a3a3a" stroke-width="1"/>
<text x="0" y="0" font-size="8.7" text-anchor="end" fill="#dc3e48" stroke="#dc3e48" stroke-width="0.15" transform="translate(203.60,554.4) rotate(-90)">M414</text>
<rect x="206.00" y="489.2" width="7.6" height="35.1" fill="#c4c4c4"/>
<line x1="209.80" y1="523.9" x2="209.80" y2="494.7" stroke="#364a98" stroke-width="2.1"/>
<polygon points="206.70,495.2 209.80,490.3 212.90,495.2" fill="#364a98"/>
<line x1="209.80" y1="546.7" x2="209.80" y2="550.2" stroke="#3a3a3a" stroke-width="1"/>
<text x="0" y="0" font-size="8.7" text-anchor="end" fill="#dc3e48" stroke="#dc3e48" stroke-width="0.15" transform="translate(212.90,554.4) rotate(-90)">M229</text>
<rect x="215.30" y="468.2" width="7.6" height="56.1" fill="#c4c4c4"/>
<line x1="219.10" y1="523.9" x2="219.10" y2="472.59999999999997" stroke="#364a98" stroke-width="2.1"/>
<polygon points="216.00,473.09999999999997 219.10,468.2 222.20,473.09999999999997" fill="#364a98"/>
<line x1="219.10" y1="546.7" x2="219.10" y2="550.2" stroke="#3a3a3a" stroke-width="1"/>
<text x="0" y="0" font-size="8.7" text-anchor="end" fill="#3f5ca2" stroke="#3f5ca2" stroke-width="0.15" transform="translate(222.20,554.4) rotate(-90)">M311</text>
<rect x="224.60" y="478.8" width="7.6" height="47.0" fill="#c4c4c4"/>
<line x1="228.40" y1="524.9" x2="228.40" y2="483.2" stroke="#364a98" stroke-width="2.1"/>
<polygon points="225.30,483.7 228.40,478.8 231.50,483.7" fill="#364a98"/>
<line x1="228.40" y1="546.7" x2="228.40" y2="550.2" stroke="#3a3a3a" stroke-width="1"/>
<text x="0" y="0" font-size="8.7" text-anchor="end" fill="#dc3e48" stroke="#dc3e48" stroke-width="0.15" transform="translate(231.50,554.4) rotate(-90)">M407</text>
<rect x="233.90" y="512.8" width="7.6" height="13.4" fill="#c4c4c4"/>
<line x1="237.70" y1="525.4" x2="237.70" y2="517.1" stroke="#364a98" stroke-width="2.1"/>
<polygon points="234.60,517.6 237.70,512.7 240.80,517.6" fill="#364a98"/>
<circle cx="237.70" cy="502.3" r="1.4" fill="#111"/>
<line x1="237.70" y1="546.7" x2="237.70" y2="550.2" stroke="#3a3a3a" stroke-width="1"/>
<text x="0" y="0" font-size="8.7" text-anchor="end" fill="#222" stroke="#222" stroke-width="0.15" transform="translate(240.80,554.4) rotate(-90)">M418</text>
<rect x="243.20" y="478.8" width="7.6" height="49.2" fill="#c4c4c4"/>
<line x1="247.00" y1="526.9" x2="247.00" y2="488.7" stroke="#364a98" stroke-width="2.1"/>
<polygon points="243.90,489.2 247.00,484.3 250.10,489.2" fill="#364a98"/>
<line x1="247.00" y1="546.7" x2="247.00" y2="550.2" stroke="#3a3a3a" stroke-width="1"/>
<text x="0" y="0" font-size="8.7" text-anchor="end" fill="#74b85c" stroke="#74b85c" stroke-width="0.15" transform="translate(250.10,554.4) rotate(-90)">M376</text>
<rect x="252.50" y="490.5" width="7.6" height="36.8" fill="#c4c4c4"/>
<line x1="256.30" y1="525.9" x2="256.30" y2="495.2" stroke="#364a98" stroke-width="2.1"/>
<polygon points="253.20,495.7 256.30,490.8 259.40,495.7" fill="#364a98"/>
<line x1="256.30" y1="546.7" x2="256.30" y2="550.2" stroke="#3a3a3a" stroke-width="1"/>
<text x="0" y="0" font-size="8.7" text-anchor="end" fill="#3f5ca2" stroke="#3f5ca2" stroke-width="0.15" transform="translate(259.40,554.4) rotate(-90)">M202</text>
<rect x="261.80" y="483.0" width="7.6" height="44.3" fill="#c4c4c4"/>
<line x1="265.60" y1="525.9" x2="265.60" y2="487.79999999999995" stroke="#364a98" stroke-width="2.1"/>
<polygon points="262.50,488.29999999999995 265.60,483.4 268.70,488.29999999999995" fill="#364a98"/>
<line x1="265.60" y1="546.7" x2="265.60" y2="550.2" stroke="#3a3a3a" stroke-width="1"/>
<text x="0" y="0" font-size="8.7" text-anchor="end" fill="#dc3e48" stroke="#dc3e48" stroke-width="0.15" transform="translate(268.70,554.4) rotate(-90)">M383</text>
<line x1="274.90" y1="527.0" x2="274.90" y2="523.6" stroke="#364a98" stroke-width="2.1"/>
<polygon points="271.80,524.1 274.90,519.2 278.00,524.1" fill="#364a98"/>
<line x1="274.90" y1="546.7" x2="274.90" y2="550.2" stroke="#3a3a3a" stroke-width="1"/>
<text x="0" y="0" font-size="8.7" text-anchor="end" fill="#dc3e48" stroke="#dc3e48" stroke-width="0.15" transform="translate(278.00,554.4) rotate(-90)">M229AR</text>
<rect x="280.40" y="499.3" width="7.6" height="28.7" fill="#c4c4c4"/>
<line x1="284.20" y1="527.7" x2="284.20" y2="503.2" stroke="#364a98" stroke-width="2.1"/>
<polygon points="281.10,503.7 284.20,498.8 287.30,503.7" fill="#364a98"/>
<line x1="284.20" y1="546.7" x2="284.20" y2="550.2" stroke="#3a3a3a" stroke-width="1"/>
<text x="0" y="0" font-size="8.7" text-anchor="end" fill="#3f5ca2" stroke="#3f5ca2" stroke-width="0.15" transform="translate(287.30,554.4) rotate(-90)">SBCL2</text>
<polygon points="290.20,528 293.50,522.3 296.80,528" fill="#364a98"/>
<circle cx="293.50" cy="514.1" r="1.4" fill="#111"/>
<line x1="293.50" y1="546.7" x2="293.50" y2="550.2" stroke="#3a3a3a" stroke-width="1"/>
<text x="0" y="0" font-size="8.7" text-anchor="end" fill="#dc3e48" stroke="#dc3e48" stroke-width="0.15" transform="translate(296.60,554.4) rotate(-90)">M411</text>
<rect x="299.00" y="490.0" width="7.6" height="39.2" fill="#c4c4c4"/>
<line x1="302.80" y1="528.5" x2="302.80" y2="494.7" stroke="#364a98" stroke-width="2.1"/>
<polygon points="299.70,495.2 302.80,490.3 305.90,495.2" fill="#364a98"/>
<line x1="302.80" y1="546.7" x2="302.80" y2="550.2" stroke="#3a3a3a" stroke-width="1"/>
<text x="0" y="0" font-size="8.7" text-anchor="end" fill="#3f5ca2" stroke="#3f5ca2" stroke-width="0.15" transform="translate(305.90,554.4) rotate(-90)">M207</text>
<rect x="308.30" y="483.0" width="7.6" height="46.5" fill="#c4c4c4"/>
<line x1="312.10" y1="528.8" x2="312.10" y2="487.9" stroke="#364a98" stroke-width="2.1"/>
<polygon points="309.00,488.4 312.10,483.5 315.20,488.4" fill="#364a98"/>
<line x1="312.10" y1="546.7" x2="312.10" y2="550.2" stroke="#3a3a3a" stroke-width="1"/>
<text x="0" y="0" font-size="8.7" text-anchor="end" fill="#dc3e48" stroke="#dc3e48" stroke-width="0.15" transform="translate(315.20,554.4) rotate(-90)">M238</text>
<rect x="317.60" y="510.5" width="7.6" height="19.0" fill="#c4c4c4"/>
<line x1="321.40" y1="529.0" x2="321.40" y2="515.4" stroke="#364a98" stroke-width="2.1"/>
<polygon points="318.30,515.9 321.40,511.0 324.50,515.9" fill="#364a98"/>
<line x1="321.40" y1="546.7" x2="321.40" y2="550.2" stroke="#3a3a3a" stroke-width="1"/>
<text x="0" y="0" font-size="8.7" text-anchor="end" fill="#dc3e48" stroke="#dc3e48" stroke-width="0.15" transform="translate(324.50,554.4) rotate(-90)">M406</text>
<rect x="326.90" y="510.0" width="7.6" height="20.0" fill="#c4c4c4"/>
<line x1="330.70" y1="529.0" x2="330.70" y2="515.4" stroke="#364a98" stroke-width="2.1"/>
<polygon points="327.60,515.9 330.70,511.0 333.80,515.9" fill="#364a98"/>
<line x1="330.70" y1="546.7" x2="330.70" y2="550.2" stroke="#3a3a3a" stroke-width="1"/>
<text x="0" y="0" font-size="8.7" text-anchor="end" fill="#3f5ca2" stroke="#3f5ca2" stroke-width="0.15" transform="translate(333.80,554.4) rotate(-90)">M245</text>
<rect x="336.20" y="527.2" width="7.6" height="4.3" fill="#c4c4c4"/>
<polyline points="337.30,528.4 340.00,531.4 342.70,528.4" fill="none" stroke="#364a98" stroke-width="1.7"/>
<line x1="340.00" y1="546.7" x2="340.00" y2="550.2" stroke="#3a3a3a" stroke-width="1"/>
<text x="0" y="0" font-size="8.7" text-anchor="end" fill="#222" stroke="#222" stroke-width="0.15" transform="translate(343.10,554.4) rotate(-90)">M368</text>
<rect x="345.50" y="397.5" width="7.6" height="133.0" fill="#c4c4c4"/>
<line x1="349.30" y1="529.5" x2="349.30" y2="398.29999999999995" stroke="#364a98" stroke-width="2.1"/>
<polygon points="346.20,398.79999999999995 349.30,393.9 352.40,398.79999999999995" fill="#364a98"/>
<line x1="349.30" y1="546.7" x2="349.30" y2="550.2" stroke="#3a3a3a" stroke-width="1"/>
<text x="0" y="0" font-size="8.7" text-anchor="end" fill="#dc3e48" stroke="#dc3e48" stroke-width="0.15" transform="translate(352.40,554.4) rotate(-90)">M255</text>
<rect x="354.80" y="286.4" width="7.6" height="244.1" fill="#c4c4c4"/>
<line x1="358.60" y1="529.5" x2="358.60" y2="332.7" stroke="#364a98" stroke-width="2.1"/>
<polygon points="355.50,333.2 358.60,328.3 361.70,333.2" fill="#364a98"/>
<line x1="358.60" y1="546.7" x2="358.60" y2="550.2" stroke="#3a3a3a" stroke-width="1"/>
<text x="0" y="0" font-size="8.7" text-anchor="end" fill="#dc3e48" stroke="#dc3e48" stroke-width="0.15" transform="translate(361.70,554.4) rotate(-90)">M381</text>
<rect x="364.10" y="482.0" width="7.6" height="49.2" fill="#c4c4c4"/>
<line x1="367.90" y1="530.0" x2="367.90" y2="486.4" stroke="#364a98" stroke-width="2.1"/>
<polygon points="364.80,486.9 367.90,482.0 371.00,486.9" fill="#364a98"/>
<line x1="367.90" y1="546.7" x2="367.90" y2="550.2" stroke="#3a3a3a" stroke-width="1"/>
<text x="0" y="0" font-size="8.7" text-anchor="end" fill="#dc3e48" stroke="#dc3e48" stroke-width="0.15" transform="translate(371.00,554.4) rotate(-90)">M263</text>
<rect x="373.40" y="497.7" width="7.6" height="33.3" fill="#c4c4c4"/>
<line x1="377.20" y1="530.0" x2="377.20" y2="502.09999999999997" stroke="#364a98" stroke-width="2.1"/>
<polygon points="374.10,502.59999999999997 377.20,497.7 380.30,502.59999999999997" fill="#364a98"/>
<line x1="377.20" y1="546.7" x2="377.20" y2="550.2" stroke="#3a3a3a" stroke-width="1"/>
<text x="0" y="0" font-size="8.7" text-anchor="end" fill="#dc3e48" stroke="#dc3e48" stroke-width="0.15" transform="translate(380.30,554.4) rotate(-90)">M249AR</text>
<rect x="382.70" y="492.6" width="7.6" height="40.9" fill="#c4c4c4"/>
<line x1="386.50" y1="531.0" x2="386.50" y2="498.59999999999997" stroke="#364a98" stroke-width="2.1"/>
<polygon points="383.40,499.09999999999997 386.50,494.2 389.60,499.09999999999997" fill="#364a98"/>
<line x1="386.50" y1="546.7" x2="386.50" y2="550.2" stroke="#3a3a3a" stroke-width="1"/>
<text x="0" y="0" font-size="8.7" text-anchor="end" fill="#dc3e48" stroke="#dc3e48" stroke-width="0.15" transform="translate(389.60,554.4) rotate(-90)">M370</text>
<rect x="392.00" y="468.8" width="7.6" height="64.7" fill="#c4c4c4"/>
<line x1="395.80" y1="531.0" x2="395.80" y2="485.4" stroke="#364a98" stroke-width="2.1"/>
<polygon points="392.70,485.9 395.80,481.0 398.90,485.9" fill="#364a98"/>
<line x1="395.80" y1="546.7" x2="395.80" y2="550.2" stroke="#3a3a3a" stroke-width="1"/>
<text x="0" y="0" font-size="8.7" text-anchor="end" fill="#dc3e48" stroke="#dc3e48" stroke-width="0.15" transform="translate(398.90,554.4) rotate(-90)">M397AR</text>
<rect x="401.30" y="522.6" width="7.6" height="9.4" fill="#c4c4c4"/>
<line x1="405.10" y1="531.0" x2="405.10" y2="527.0" stroke="#364a98" stroke-width="2.1"/>
<polygon points="402.00,527.5 405.10,522.6 408.20,527.5" fill="#364a98"/>
<circle cx="405.10" cy="513.4" r="1.4" fill="#111"/>
<line x1="405.10" y1="546.7" x2="405.10" y2="550.2" stroke="#3a3a3a" stroke-width="1"/>
<text x="0" y="0" font-size="8.7" text-anchor="end" fill="#222" stroke="#222" stroke-width="0.15" transform="translate(408.20,554.4) rotate(-90)">M285</text>
<rect x="410.60" y="500.5" width="7.6" height="31.3" fill="#c4c4c4"/>
<line x1="414.40" y1="531.0" x2="414.40" y2="504.9" stroke="#364a98" stroke-width="2.1"/>
<polygon points="411.30,505.4 414.40,500.5 417.50,505.4" fill="#364a98"/>
<line x1="414.40" y1="546.7" x2="414.40" y2="550.2" stroke="#3a3a3a" stroke-width="1"/>
<text x="0" y="0" font-size="8.7" text-anchor="end" fill="#dc3e48" stroke="#dc3e48" stroke-width="0.15" transform="translate(417.50,554.4) rotate(-90)">M397</text>
<rect x="419.90" y="512.7" width="7.6" height="19.1" fill="#c4c4c4"/>
<line x1="423.70" y1="531.0" x2="423.70" y2="517.8" stroke="#364a98" stroke-width="2.1"/>
<polygon points="420.60,518.3 423.70,513.4 426.80,518.3" fill="#364a98"/>
<line x1="423.70" y1="546.7" x2="423.70" y2="550.2" stroke="#3a3a3a" stroke-width="1"/>
<text x="0" y="0" font-size="8.7" text-anchor="end" fill="#74b85c" stroke="#74b85c" stroke-width="0.15" transform="translate(426.80,554.4) rotate(-90)">M398</text>
<rect x="429.20" y="512.7" width="7.6" height="19.1" fill="#c4c4c4"/>
<line x1="433.00" y1="531.0" x2="433.00" y2="517.1" stroke="#364a98" stroke-width="2.1"/>
<polygon points="429.90,517.6 433.00,512.7 436.10,517.6" fill="#364a98"/>
<line x1="433.00" y1="546.7" x2="433.00" y2="550.2" stroke="#3a3a3a" stroke-width="1"/>
<text x="0" y="0" font-size="8.7" text-anchor="end" fill="#3f5ca2" stroke="#3f5ca2" stroke-width="0.15" transform="translate(436.10,554.4) rotate(-90)">SKMEL176</text>
<rect x="438.50" y="489.6" width="7.6" height="44.6" fill="#c4c4c4"/>
<line x1="442.30" y1="532.0" x2="442.30" y2="494.7" stroke="#364a98" stroke-width="2.1"/>
<polygon points="439.20,495.2 442.30,490.3 445.40,495.2" fill="#364a98"/>
<line x1="442.30" y1="546.7" x2="442.30" y2="550.2" stroke="#3a3a3a" stroke-width="1"/>
<text x="0" y="0" font-size="8.7" text-anchor="end" fill="#dc3e48" stroke="#dc3e48" stroke-width="0.15" transform="translate(445.40,554.4) rotate(-90)">M409AR</text>
<rect x="447.80" y="439.0" width="7.6" height="93.3" fill="#c4c4c4"/>
<line x1="451.60" y1="531.0" x2="451.60" y2="443.59999999999997" stroke="#364a98" stroke-width="2.1"/>
<polygon points="448.50,444.09999999999997 451.60,439.2 454.70,444.09999999999997" fill="#364a98"/>
<line x1="451.60" y1="546.7" x2="451.60" y2="550.2" stroke="#3a3a3a" stroke-width="1"/>
<text x="0" y="0" font-size="8.7" text-anchor="end" fill="#dc3e48" stroke="#dc3e48" stroke-width="0.15" transform="translate(454.70,554.4) rotate(-90)">M299</text>
<polyline points="458.10,535.4 460.90,532.0 463.70,535.4" fill="none" stroke="#364a98" stroke-width="1.8"/>
<circle cx="460.90" cy="522.8" r="1.4" fill="#111"/>
<line x1="460.90" y1="546.7" x2="460.90" y2="550.2" stroke="#3a3a3a" stroke-width="1"/>
<text x="0" y="0" font-size="8.7" text-anchor="end" fill="#3f5ca2" stroke="#3f5ca2" stroke-width="0.15" transform="translate(464.00,554.4) rotate(-90)">M412B</text>
<rect x="466.40" y="526.5" width="7.6" height="5.5" fill="#c4c4c4"/>
<polygon points="470.20,527 473.50,529.8 470.20,532.4 466.90,529.8" fill="#364a98"/>
<circle cx="470.20" cy="518.8" r="1.4" fill="#111"/>
<line x1="470.20" y1="546.7" x2="470.20" y2="550.2" stroke="#3a3a3a" stroke-width="1"/>
<text x="0" y="0" font-size="8.7" text-anchor="end" fill="#dc3e48" stroke="#dc3e48" stroke-width="0.15" transform="translate(473.30,554.4) rotate(-90)">M409</text>
<rect x="475.70" y="512.3" width="7.6" height="20.0" fill="#c4c4c4"/>
<line x1="479.50" y1="531.0" x2="479.50" y2="516.6999999999999" stroke="#364a98" stroke-width="2.1"/>
<polygon points="476.40,517.1999999999999 479.50,512.3 482.60,517.1999999999999" fill="#364a98"/>
<line x1="479.50" y1="546.7" x2="479.50" y2="550.2" stroke="#3a3a3a" stroke-width="1"/>
<text x="0" y="0" font-size="8.7" text-anchor="end" fill="#dc3e48" stroke="#dc3e48" stroke-width="0.15" transform="translate(482.60,554.4) rotate(-90)">M399</text>
<rect x="485.00" y="462.5" width="7.6" height="70.5" fill="#c4c4c4"/>
<line x1="488.80" y1="532.0" x2="488.80" y2="467.4" stroke="#364a98" stroke-width="2.1"/>
<polygon points="485.70,467.9 488.80,463.0 491.90,467.9" fill="#364a98"/>
<line x1="488.80" y1="546.7" x2="488.80" y2="550.2" stroke="#3a3a3a" stroke-width="1"/>
<text x="0" y="0" font-size="8.7" text-anchor="end" fill="#dc3e48" stroke="#dc3e48" stroke-width="0.15" transform="translate(491.90,554.4) rotate(-90)">M249</text>
<rect x="494.30" y="475.0" width="7.6" height="58.5" fill="#c4c4c4"/>
<line x1="498.10" y1="532.0" x2="498.10" y2="480.2" stroke="#364a98" stroke-width="2.1"/>
<polygon points="495.00,480.7 498.10,475.8 501.20,480.7" fill="#364a98"/>
<line x1="498.10" y1="546.7" x2="498.10" y2="550.2" stroke="#3a3a3a" stroke-width="1"/>
<text x="0" y="0" font-size="8.7" text-anchor="end" fill="#3f5ca2" stroke="#3f5ca2" stroke-width="0.15" transform="translate(501.20,554.4) rotate(-90)">M243</text>
<polygon points="144.70,536.20 146.18,540.16 150.41,540.35 147.10,542.98 148.23,547.05 144.70,544.72 141.17,547.05 142.30,542.98 138.99,540.35 143.22,540.16" fill="#e8202a"/>
<polygon points="340.00,536.20 341.48,540.16 345.71,540.35 342.40,542.98 343.53,547.05 340.00,544.72 336.47,547.05 337.60,542.98 334.29,540.35 338.52,540.16" fill="#e8202a"/>
</svg></body></html>
